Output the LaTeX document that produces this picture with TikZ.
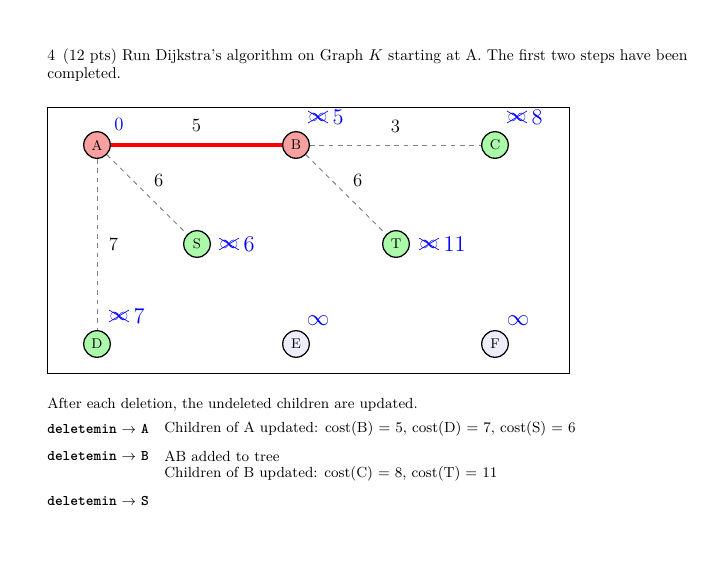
\documentclass[tikz,border=0pt]{standalone}
\begin{document}
\begin{tikzpicture}[x=0.64pt,y=-0.64pt,
  vtx/.style={circle,draw,thick,minimum size=17pt,inner sep=0pt,font=\small},
  vred/.style={fill={rgb,255:red,250;green,160;blue,160}},
  vgrn/.style={fill={rgb,255:red,170;green,250;blue,170}},
  vlav/.style={fill={rgb,255:red,238;green,238;blue,250}},
  cost/.style={text=blue,font=\Large,inner sep=0.5pt},
  ed/.style={dashed,gray,semithick},
  elab/.style={text=black,font=\large},
  txt/.style={anchor=west,inner sep=0pt},
  low/.style={txt,font=\fontsize{9.4}{11}\selectfont}]
\useasboundingbox (0,0) rectangle (703,571);
\newcommand{\xcost}[3]{%
  \node[cost,font=\large] (i#1) at (#2) {$\infty$};
  \draw[blue,thin] ([shift={(-10,6)}]i#1.center) -- ([shift={(10,-6)}]i#1.center) ([shift={(-10,-6)}]i#1.center) -- ([shift={(10,6)}]i#1.center);
  \node[cost,anchor=west] (n#1) at ([xshift=2pt]i#1.east) {#3};}
\node[txt] (t1) at (47,57) {4\enspace(12 pts) Run Dijkstra's algorithm on Graph $K$ starting at A. The first two steps have been};
\node[txt] (t2) at (47,75) {completed.};
\draw (47,107) rectangle (569,373);
\node[vtx,vred] (A) at (97,145) {A};
\node[vtx,vred] (B) at (296,145) {B};
\node[vtx,vgrn] (C) at (495,145) {C};
\node[vtx,vgrn] (S) at (197,244) {S};
\node[vtx,vgrn] (T) at (396,244) {T};
\node[vtx,vgrn] (D) at (97,344) {D};
\node[vtx,vlav] (E) at (296,344) {E};
\node[vtx,vlav] (F) at (495,344) {F};
\draw[red,line width=2.5pt] (A) -- node[above=4pt,elab] {5} (B);
\draw[ed] (B) -- node[above=4pt,elab] {3} (C);
\draw[ed] (A) -- node[above right=1pt,elab] {6} (S);
\draw[ed] (B) -- node[above right=1pt,elab] {6} (T);
\draw[ed] (A) -- node[right=4pt,elab] {7} (D);
\node[cost,font=\large] (cA) at (119,124) {0};
\xcost{B}{318,117}{5}
\xcost{C}{517,117}{8}
\xcost{S}{229,244}{6}
\xcost{T}{429,244}{11}
\xcost{D}{119,316}{7}
\node[cost] (cE) at (318,321) {$\infty$};
\node[cost] (cF) at (518,321) {$\infty$};
\node[low] (l1) at (47,405) {After each deletion, the undeleted children are updated.};
\node[low] (l2) at (47,429) {\texttt{\textbf{deletemin}} $\rightarrow$ \texttt{\textbf{A}}};
\node[low] (l2b) at (164,429) {Children of A updated: cost(B) = 5, cost(D) = 7, cost(S) = 6};
\node[low] (l3) at (47,456) {\texttt{\textbf{deletemin}} $\rightarrow$ \texttt{\textbf{B}}};
\node[low] (l3b) at (164,456) {AB added to tree};
\node[low] (l3c) at (164,474) {Children of B updated: cost(C) = 8, cost(T) = 11};
\node[low] (l4) at (47,501) {\texttt{\textbf{deletemin}} $\rightarrow$ \texttt{\textbf{S}}};
\end{tikzpicture}
\end{document}
